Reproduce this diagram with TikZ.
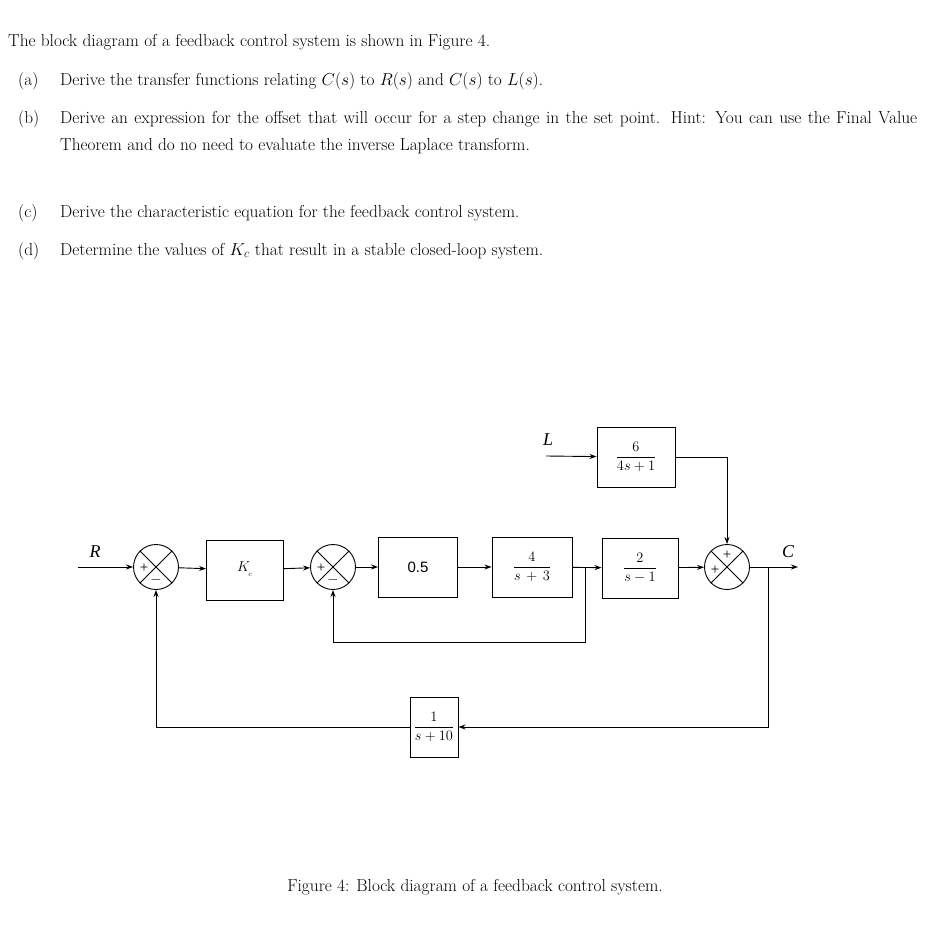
\documentclass[tikz,border=0pt]{standalone}
\usepackage{amsmath}
\usepackage{fontspec}
\newfontfamily\dia{Liberation Serif}
\newfontfamily\diasans{Liberation Sans}
\usetikzlibrary{arrows.meta}
\begin{document}
\begin{tikzpicture}[x=1pt,y=-1pt,
  blk/.style={draw,line width=0.9pt,inner sep=0pt,font=\dia\fontsize{15}{17}\selectfont},
  sm/.style={draw,circle,line width=0.9pt,minimum size=45pt,inner sep=0pt},
  ar/.style={-{Stealth[length=7pt,width=5pt]},line width=0.9pt},
  ln/.style={line width=0.9pt},
  sgn/.style={font=\dia\fontsize{15}{15}\selectfont,inner sep=0pt},
  body/.style={anchor=base west,inner sep=0pt,font=\fontsize{17.3}{27}\selectfont}]
\useasboundingbox (0,0) rectangle (924,944);
\node[body] (t0) at (8,47) {The block diagram of a feedback control system is shown in Figure 4.};
\node[body] (ta) at (18,86) {(a)};
\node[body] (ta2) at (60,86) {Derive the transfer functions relating $C(s)$ to $R(s)$ and $C(s)$ to $L(s)$.};
\node[body] (tb) at (18,124) {(b)};
\node[body,text width=857pt,align=justify] (tb2) at (60,124) {Derive an expression for the offset that will occur for a step change in the set point. Hint: You can use the Final Value Theorem and do no need to evaluate the inverse Laplace transform.};
\node[body] (tc) at (18,217) {(c)};
\node[body] (tc2) at (60,217) {Derive the characteristic equation for the feedback control system.};
\node[body] (td) at (18,255) {(d)};
\node[body] (td2) at (60,255) {Determine the values of $K_c$ that result in a stable closed-loop system.};
\node[anchor=base,inner sep=0pt,font=\fontsize{17.3}{20}\selectfont] (cap) at (475,891) {Figure 4: Block diagram of a feedback control system.};

% diagram
\node[sm] (s1) at (156,567) {};
\node[sm] (s2) at (333,567) {};
\node[sm] (s3) at (727,567) {};
\foreach \s in {s1,s2,s3}{\draw[ln] (\s.north west)--(\s.south east) (\s.north east)--(\s.south west);}
\node[sgn] at (144,568) {+};
\node[sgn] at (156,580) {$-$};
\node[sgn] at (321,568) {+};
\node[sgn] at (333,580) {$-$};
\node[sgn] at (715,570) {+};
\node[sgn] at (727,555) {+};
\node[blk,minimum width=77pt,minimum height=60pt] (kc) at (245,570) {$K_{\!\!\phantom{|}_c}$};
\node[blk,minimum width=79pt,minimum height=60pt,font=\diasans\fontsize{15}{17}\selectfont] (b05) at (418,567) {0.5};
\node[blk,minimum width=80pt,minimum height=60pt] (g1) at (532,567) {$\dfrac{4}{s\,+\,3}$};
\node[blk,minimum width=76pt,minimum height=60pt] (g2) at (640,568) {$\dfrac{2}{s-1}$};
\node[blk,minimum width=78pt,minimum height=60pt] (gl) at (636,457) {$\dfrac{6}{4s+1}$};
\node[blk,minimum width=48pt,minimum height=60pt] (h) at (434,727) {$\dfrac{1}{s+10}$};
\node[font=\dia\itshape\fontsize{18}{18}\selectfont] (R) at (95,552) {R};
\node[font=\dia\itshape\fontsize{18}{18}\selectfont] (L) at (548,440) {L};
\node[font=\dia\itshape\fontsize{18}{18}\selectfont] (C) at (788,552) {C};
\coordinate (rin) at (78,567);
\coordinate (lin) at (546,456);
\coordinate (cout) at (798,567);
\coordinate (br1) at (585,567);
\coordinate (br2) at (768,567);
\draw[ar] (rin) -- (s1);
\draw[ar] (s1) -- (kc);
\draw[ar] (kc) -- (s2);
\draw[ar] (s2) -- (b05);
\draw[ar] (b05) -- (g1);
\draw[ar] (g1) -- (g2);
\draw[ar] (g2) -- (s3);
\draw[ar] (s3) -- (cout);
\draw[ar] (lin) -- (gl);
\draw[ar] (gl.east) -| (s3.north);
\draw[ar] (br1) |- (333,642) -- (s2.south);
\draw[ar] (br2) |- (h.east);
\draw[ar] (h.west) -| (s1.south);
\end{tikzpicture}
\end{document}
